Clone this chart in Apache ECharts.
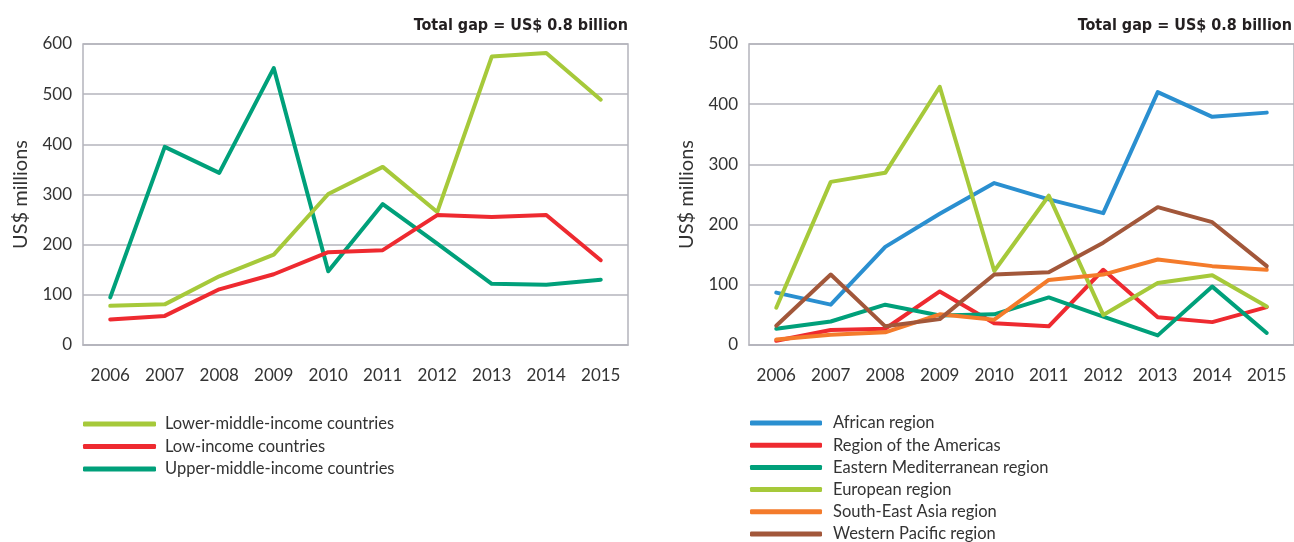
<!DOCTYPE html>
<html><head><meta charset="utf-8">
<script src="https://cdn.jsdelivr.net/npm/echarts@6/dist/echarts.min.js"></script>
<style>html,body{margin:0;padding:0;background:#fff}#c{width:1294px;height:542px}</style>
</head><body><div id="c"></div>
<script>
const years = ['2006','2007','2008','2009','2010','2011','2012','2013','2014','2015'];
const leftTicks = [0,100,200,300,400,500,600];
const rightTicks = [0,100,200,300,400,500];
const titleText = 'Total gap = US$ 0.8 billion';
const yAxisName = 'US$ millions';

const lowerMiddle = [78, 81, 137, 180, 301, 355, 265, 575, 582, 489];
const lowIncome = [51, 58, 111, 141, 185, 189, 259, 255, 259, 169];
const upperMiddle = [95, 395, 343, 552, 147, 281, 202, 122, 120, 130];

const african = [87, 67, 163, 218, 269, 242, 219, 420, 379, 386];
const americas = [7, 25, 27, 89, 36, 31, 125, 46, 38, 63];
const eastMed = [27, 39, 67, 49, 51, 79, 47, 16, 97, 20];
const european = [62, 271, 286, 429, 123, 248, 50, 103, 116, 64];
const seAsia = [9, 17, 21, 51, 42, 108, 117, 142, 131, 125];
const westPac = [32, 117, 31, 43, 117, 121, 170, 229, 204, 131];

const leftNames = ['Lower-middle-income countries','Low-income countries','Upper-middle-income countries'];
const rightNames = ['African region','Region of the Americas','Eastern Mediterranean region','European region','South-East Asia region','Western Pacific region'];

const C = {lime:'#a6c93a', red:'#ee2a30', teal:'#00a07a', blue:'#2a8fd0', orange:'#f47b2b', brown:'#a2573a'};
const FONT = 'Lato, "Open Sans", sans-serif';
const TFONT = '"Liberation Sans Narrow", "DejaVu Sans Condensed", "Roboto Condensed", sans-serif';
const gridCol = '#b4b4bc';

function line(name, data, color, idx){
  return {name, type:'line', data, xAxisIndex:idx, yAxisIndex:idx, symbol:'none',
    lineStyle:{color, width:4, cap:'round', join:'round'}, itemStyle:{color}, z:2};
}
function xAx(idx){
  return {type:'category', gridIndex:idx, data:years, boundaryGap:true,
    axisLine:{lineStyle:{color:gridCol,width:1.5}},
    axisTick:{alignWithLabel:true,length:10,lineStyle:{color:gridCol,width:1.5}},
    axisLabel:{color:'#333',fontSize:17,fontFamily:FONT,margin:22}};
}
function yAx(idx, ticks){
  return {type:'value', gridIndex:idx, min:ticks[0], max:ticks[ticks.length-1], interval:ticks[1]-ticks[0],
    name:yAxisName, nameLocation:'middle', nameGap:52, nameRotate:90,
    nameTextStyle:{color:'#333',fontSize:20,fontFamily:FONT},
    axisLine:{show:false}, axisTick:{show:false},
    axisLabel:{color:'#333',fontSize:17,fontFamily:FONT,margin:11},
    splitLine:{lineStyle:{color:gridCol,width:1.5}}};
}
const chart = echarts.init(document.getElementById('c'), null, {renderer:'canvas'});
chart.setOption({
  animation:false,
  backgroundColor:'#fff',
  title:[
    {text:titleText, right:661, top:13, padding:5, textStyle:{fontFamily:TFONT,fontWeight:'bold',fontSize:16,color:'#231f20'}},
    {text:titleText, right:-3, top:13, padding:5, textStyle:{fontFamily:TFONT,fontWeight:'bold',fontSize:16,color:'#231f20'}}
  ],
  grid:[
    {left:83, right:666, top:44, bottom:197, show:true, borderColor:gridCol, borderWidth:1.5},
    {left:749, right:-2, top:44, bottom:197, show:true, borderColor:gridCol, borderWidth:1.5}
  ],
  xAxis:[xAx(0), xAx(1)],
  yAxis:[yAx(0,leftTicks), yAx(1,rightTicks)],
  legend:[
    {data:leftNames, orient:'vertical', left:78, top:408, height:200, itemWidth:73, itemHeight:5, itemGap:0.5, icon:'roundRect',
     textStyle:{color:'#333',fontSize:16.5,fontFamily:FONT,lineHeight:22,padding:[0,0,0,4]}},
    {data:rightNames, orient:'vertical', left:745, top:407, height:200, itemWidth:72, itemHeight:5, itemGap:0.2, icon:'roundRect',
     textStyle:{color:'#333',fontSize:16.5,fontFamily:FONT,lineHeight:22,padding:[0,0,0,6]}}
  ],
  series:[
    line(leftNames[2], upperMiddle, C.teal, 0),
    line(leftNames[0], lowerMiddle, C.lime, 0),
    line(leftNames[1], lowIncome, C.red, 0),
    line(rightNames[0], african, C.blue, 1),
    line(rightNames[1], americas, C.red, 1),
    line(rightNames[2], eastMed, C.teal, 1),
    line(rightNames[3], european, C.lime, 1),
    line(rightNames[4], seAsia, C.orange, 1),
    line(rightNames[5], westPac, C.brown, 1)
  ]
});
</script></body></html>
